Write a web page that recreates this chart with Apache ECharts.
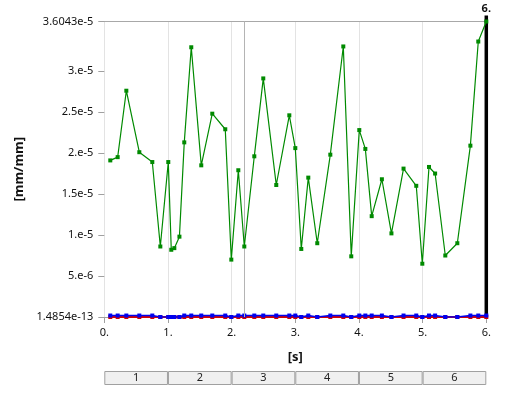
<!DOCTYPE html>
<html>
<head>
<meta charset="utf-8">
<script src="https://cdn.jsdelivr.net/npm/echarts@6/dist/echarts.min.js"></script>
<style>html,body{margin:0;padding:0;background:#fff;}#c{width:513px;height:398px;}</style>
</head>
<body>
<div id="c"></div>
<script>
// time [s]
var times = [0.094,0.21,0.346,0.55,0.754,0.88,1.005,1.052,1.10,1.18,1.256,1.366,1.523,1.696,1.90,1.995,2.105,2.199,2.356,2.497,2.701,2.906,3.0,3.094,3.204,3.345,3.55,3.754,3.879,4.005,4.1,4.2,4.36,4.51,4.70,4.90,4.995,5.10,5.196,5.356,5.545,5.75,5.874,6.0];
// green series [mm/mm] (x1e-6)
var greenVals = [19.1,19.5,27.6,20.1,18.9,8.6,18.9,8.2,8.4,9.8,21.3,32.9,18.5,24.8,22.9,7.0,17.9,8.6,19.6,29.1,16.1,24.6,20.6,8.3,17.0,9.0,19.8,33.0,7.4,22.8,20.5,12.3,16.8,10.2,18.1,16.0,6.5,18.3,17.5,7.5,9.0,20.9,33.6,36.043];
// blue series (x1e-6)
var blueVals = [0.18,0.18,0.18,0.18,0.18,0,0,0,0,0,0.18,0.18,0.18,0.18,0.18,0,0.18,0.18,0.18,0.18,0.18,0.18,0.18,0,0.18,0,0.18,0.18,0,0.18,0.18,0.18,0.18,0,0.18,0.18,0,0.18,0.18,0,0,0.18,0.18,0.18];
// red series (x1e-6)
var redVals = times.map(function(){ return 1.4854e-7; });
// axis
var yMin = 0, yMax = 3.6043e-5;
var yTicks = [0, 5e-6, 1e-5, 1.5e-5, 2e-5, 2.5e-5, 3e-5, 3.6043e-5];
var yTickLabels = ['1.4854e-13','5.e-6','1.e-5','1.5e-5','2.e-5','2.5e-5','3.e-5','3.6043e-5'];
var currentTime = 6;
var cursorTime = 2.199;
var steps = ['1','2','3','4','5','6'];
var stepBars = [1,1,1,1,1,1];

function pairs(vals, scale){ return times.map(function(t,i){ return [t, vals[i]*scale]; }); }

var FONT = 'Noto Sans';
var chart = echarts.init(document.getElementById('c'), null, {renderer:'canvas'});
chart.setOption({
  animation:false,
  backgroundColor:'#ffffff',
  grid:[
    {left:104.3, right:26.7, top:21.5, bottom:81},
    {left:104.3, right:26.7, top:15.5, bottom:81},
    {left:104.3, right:26.7, top:371, height:14}
  ],
  xAxis:[
    {gridIndex:0, type:'value', min:0, max:6, interval:1,
     name:'[s]', nameLocation:'middle', nameGap:34,
     nameTextStyle:{fontFamily:FONT, fontSize:13, fontWeight:'bold', color:'#111'},
     axisLine:{show:true, lineStyle:{color:'#a0a0a0'}},
     axisTick:{show:true, length:6, lineStyle:{color:'#a0a0a0'}},
     axisLabel:{fontFamily:FONT, fontSize:11, color:'#111', margin:10, formatter:function(v){return v+'.';}},
     splitLine:{show:true, lineStyle:{color:'#e3e3e3', width:1}}},
    {gridIndex:0, type:'value', min:0, max:6, position:'top',
     axisLine:{show:true, lineStyle:{color:'#a8a8a8'}}, axisTick:{show:false}, axisLabel:{show:false}, splitLine:{show:false}},
    {gridIndex:1, type:'value', min:0, max:6, show:false},
    {gridIndex:2, type:'category', data:steps, show:false}
  ],
  yAxis:[
    {gridIndex:0, type:'value', min:yMin, max:yMax,
     name:'[mm/mm]', nameLocation:'middle', nameGap:66, nameRotate:90,
     nameTextStyle:{fontFamily:FONT, fontSize:13, fontWeight:'bold', color:'#111'},
     axisLine:{show:false},
     axisTick:{show:true, length:6, customValues:yTicks, lineStyle:{color:'#a0a0a0'}},
     axisLabel:{fontFamily:FONT, fontSize:11, color:'#111', margin:11, customValues:yTicks,
       formatter:function(v){ for(var i=0;i<yTicks.length;i++){ if(Math.abs(yTicks[i]-v)<1e-9) return yTickLabels[i]; } return ''; }},
     splitLine:{show:false}},
    {gridIndex:1, type:'value', min:0, max:1, show:false},
    {gridIndex:2, type:'value', min:0, max:1, show:false}
  ],
  series:[
    {type:'line', xAxisIndex:0, yAxisIndex:0, z:2, data:pairs(redVals,1e-6),
     symbol:'rect', symbolSize:4, showSymbol:true, color:'#d40000',
     lineStyle:{color:'#d40000', width:2.2}, itemStyle:{color:'#d40000'},
     markLine:{silent:true, symbol:'none', label:{show:false},
       lineStyle:{color:'#b4b4b4', width:1, type:'solid'},
       data:[{xAxis:cursorTime}]}},
    {type:'line', xAxisIndex:0, yAxisIndex:0, z:3, data:pairs(blueVals,1e-6),
     symbol:'rect', symbolSize:4, color:'#0000ee',
     lineStyle:{color:'#0000ee', width:1.4}, itemStyle:{color:'#0000ee'}},
    {type:'line', xAxisIndex:2, yAxisIndex:1, z:1,
     data:[[currentTime,0],{value:[currentTime,1], label:{show:true, position:'top', distance:1, formatter:currentTime+'.', fontFamily:FONT, fontSize:11, fontWeight:'bold', color:'#111'}}],
     symbol:'rect', symbolSize:0, color:'#000',
     lineStyle:{color:'#000', width:3.5}},
    {type:'line', xAxisIndex:0, yAxisIndex:0, z:5, data:pairs(greenVals,1e-6),
     symbol:'rect', symbolSize:4, color:'#008a00',
     lineStyle:{color:'#008a00', width:1.2}, itemStyle:{color:'#008a00'}},
    {type:'bar', xAxisIndex:3, yAxisIndex:2, data:stepBars, barWidth:'100%',
     itemStyle:{color:'#f0f0f0', borderColor:'#a0a0a0', borderWidth:1},
     label:{show:true, position:'inside', formatter:'{b}', fontFamily:FONT, fontSize:11, color:'#222'}}
  ]
});
</script>
</body>
</html>
